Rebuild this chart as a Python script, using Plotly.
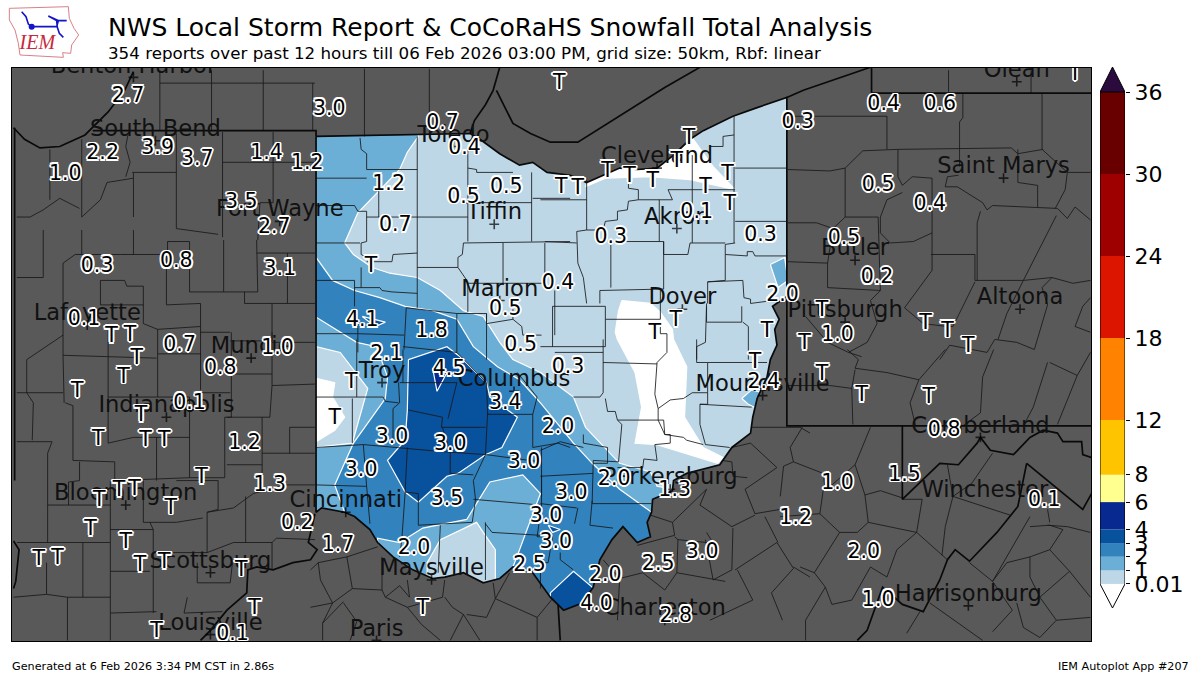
import plotly.graph_objects as go

# report values, lon / lat
snow_lon = [-86.51,-84.68,-83.65,-83.45,-80.42,-79.64,-79.13,-86.74,-86.24,-85.88,-85.25,-84.88,-87.08,-84.14,-83.46,-83.07,-79.69,-79.22,-85.48,-85.18,-84.08,-81.34,-82.12,-80.76,-80.0,-79.70,-86.79,-86.07,-85.13,-82.60,-80.56,-83.08,-86.91,-84.38,-83.75,-80.06,-82.94,-86.04,-85.15,-84.16,-85.67,-82.51,-83.59,-80.73,-83.08,-85.95,-79.09,-82.60,-84.11,-83.58,-85.45,-82.91,-84.39,-82.09,-79.45,-80.06,-82.48,-81.54,-85.22,-83.61,-78.18,-80.44,-84.97,-82.71,-82.62,-84.60,-83.91,-81.29,-79.82,-81.69,-82.86,-82.17,-79.69,-82.25,-81.53,-85.56]
snow_lat = [41.98,41.89,41.79,41.62,41.80,41.92,41.92,41.58,41.62,41.54,41.58,41.51,41.44,41.37,41.28,41.35,41.36,41.23,41.24,41.07,41.08,41.17,41.0,41.01,40.99,40.72,40.80,40.83,40.78,40.68,40.60,40.50,40.43,40.42,40.35,40.32,40.25,40.25,40.23,40.19,40.09,40.10,40.08,39.99,39.85,39.85,39.66,39.68,39.61,39.56,39.57,39.44,39.38,39.32,39.35,39.29,39.22,39.24,39.28,39.18,39.17,39.05,39.01,39.06,38.88,38.86,38.84,38.81,38.81,38.73,38.72,38.65,38.48,38.45,38.37,38.24]
snow_val = ["2.7","3.0","0.7","0.4","0.3","0.4","0.6","2.2","3.9","3.7","1.4","1.2","1.0","1.2","0.5","0.5","0.5","0.4","3.5","2.7","0.7","0.1","0.3","0.3","0.5","0.2","0.3","0.8","3.1","0.4","2.0","0.5","0.1","4.1","1.8","1.0","0.5","0.7","1.0","2.1","0.8","0.3","4.5","2.4","3.4","0.1","0.8","2.0","3.0","3.0","1.2","3.0","3.0","2.0","1.5","1.0","3.0","1.3","1.3","3.5","0.1","1.2","0.2","3.0","3.0","1.7","2.0","3.0","2.0","2.5","2.5","2.0","1.0","4.0","2.8","0.1"]

trace_lon = [-82.59,-77.90,-81.41,-82.15,-81.95,-81.74,-81.52,-81.06,-81.26,-81.04,-82.57,-82.42,-84.30,-86.66,-86.49,-86.43,-86.55,-86.97,-86.39,-86.78,-86.35,-86.18,-85.84,-86.77,-86.59,-86.45,-86.12,-86.85,-86.53,-87.32,-87.15,-86.40,-86.18,-85.48,-85.36,-86.25,-83.83,-84.48,-84.63,-81.72,-81.53,-80.70,-80.81,-80.36,-80.20,-80.20,-79.84,-79.23,-79.26,-79.06,-78.87]
trace_lat = [42.07,42.13,41.69,41.46,41.42,41.39,41.53,41.44,41.35,41.23,41.35,41.34,40.80,40.31,40.32,40.16,40.03,39.93,39.76,39.60,39.59,39.59,39.33,39.17,39.24,39.25,39.12,38.97,38.88,38.76,38.77,38.72,38.74,38.69,38.42,38.26,38.42,39.99,39.74,40.33,40.42,40.35,40.13,40.26,40.49,40.05,39.90,39.89,40.40,40.35,40.24]

city_name = ["Benton Harbor","South Bend","Toledo","Cleveland","Tiffin","Fort Wayne","Akron","Marion","Dover","Butler","Saint Marys","Olean","Altoona","Pittsburgh","Lafayette","Muncie","Troy","Columbus","Moundsville","Indianapolis","Cumberland","Winchester","Bloomington","Cincinnati","Parkersburg","Scottsburg","Maysville","Harrisonburg","Charleston","Louisville","Paris"]
city_lon = [-86.46,-86.26,-83.55,-81.70,-83.18,-85.13,-81.52,-83.13,-81.47,-79.90,-78.55,-78.43,-78.40,-79.99,-86.88,-85.39,-84.20,-83.00,-80.74,-86.16,-78.76,-78.72,-86.53,-84.53,-81.58,-85.76,-83.75,-78.87,-81.63,-85.76,-84.25]
city_lat = [42.10,41.66,41.62,41.47,41.08,41.10,41.05,40.55,40.49,40.83,41.40,42.07,40.49,40.40,40.38,40.15,39.98,39.92,39.89,39.74,39.60,39.15,39.13,39.08,39.24,38.66,38.61,38.43,38.33,38.23,38.19]

# colour bar
bar_bounds = [0.01,1,2,3,4,6,8,12,18,24,30,36]
bar_colors = ["#bdd7e7","#6baed6","#3182bd","#08519c","#08298f","#ffff8f","#ffc400","#ff8300","#db1500","#9e0000","#690000"]
bar_ticks = [0.01,1,2,3,4,6,8,12,18,24,30,36]
bar_ticktext = ["0.01","1","2","3","4","6","8","12","18","24","30","36"]

ohio = [(-84.80,41.69),(-83.87,41.70),(-83.40,41.71),(-83.31,41.67),(-83.13,41.57),(-82.95,41.49),(-82.83,41.51),(-82.70,41.44),(-82.49,41.42),(-82.34,41.37),(-82.19,41.42),(-82.04,41.47),(-81.88,41.46),(-81.70,41.47),(-81.55,41.56),(-81.40,41.67),(-81.28,41.73),(-81.01,41.83),(-80.79,41.89),(-80.52,41.96),(-80.52,40.58),(-80.65,40.51),(-80.59,40.42),(-80.63,40.35),(-80.61,40.24),(-80.67,40.14),(-80.70,40.02),(-80.79,39.87),(-80.83,39.74),(-80.85,39.63),(-81.02,39.53),(-81.13,39.41),(-81.43,39.35),(-81.55,39.30),(-81.56,39.23),(-81.74,39.17),(-81.75,39.08),(-81.79,39.01),(-81.76,38.91),(-81.88,38.87),(-82.01,38.98),(-82.11,38.89),(-82.22,38.75),(-82.28,38.56),(-82.38,38.45),(-82.55,38.40),(-82.67,38.49),(-82.85,38.68),(-83.01,38.70),(-83.13,38.62),(-83.28,38.59),(-83.46,38.66),(-83.63,38.63),(-83.74,38.62),(-83.92,38.68),(-84.10,38.77),(-84.24,38.87),(-84.31,38.96),(-84.45,39.05),(-84.54,39.08),(-84.75,39.11),(-84.80,39.08),(-84.80,41.69)]

# analysis bands, painted lightest first, the mask trims them to the state
white_zones = [
    [(-82.35,41.34),(-82.17,41.40),(-81.76,41.41),(-81.40,41.39),(-80.99,41.32),(-81.19,41.48),(-81.40,41.70),(-82.22,41.67)],
    [(-82.02,40.55),(-81.76,40.53),(-81.67,40.47),(-81.56,40.35),(-81.55,40.28),(-81.43,40.09),(-81.45,39.74),(-81.28,39.53),(-81.10,39.46),(-81.15,39.42),(-81.70,39.55),(-81.90,39.56),(-81.84,39.81),(-81.90,40.05),(-82.06,40.28),(-82.08,40.33),(-82.05,40.48)],
]
band1 = [
    [(-83.87,41.69),(-83.97,41.58),(-84.04,41.46),(-84.29,41.26),(-84.42,41.16),(-84.54,40.95),(-84.46,40.87),(-84.29,40.78),(-84.13,40.74),(-83.88,40.71),(-83.67,40.62),(-83.46,40.48),(-83.28,40.44),(-83.13,40.26),(-83.01,40.14),(-82.76,40.05),(-82.46,39.88),(-82.35,39.67),(-82.15,39.51),(-82.04,39.42),(-81.76,39.36),(-81.70,39.26),(-81.49,39.23),(-81.31,38.19),(-84.95,38.19),(-84.95,41.77),(-83.87,41.77)],
    [(-80.67,40.80),(-80.54,40.85),(-80.51,40.69),(-80.60,40.64)],
    [(-80.93,39.87),(-80.84,39.93),(-80.74,39.91),(-80.79,39.80),(-80.87,39.83)],
]
light_islands = [
    [(-84.95,40.23),(-84.80,40.23),(-84.58,40.19),(-84.33,39.94),(-84.47,39.56),(-84.80,39.53),(-84.95,39.53)],
    [(-83.79,38.54),(-83.79,38.73),(-83.67,38.89),(-83.34,39.01),(-83.28,38.94),(-83.17,38.82),(-83.17,38.54)],
]
white_west = [(-84.80,40.01),(-84.63,39.98),(-84.65,39.88),(-84.54,39.74),(-84.63,39.65),(-84.80,39.57)]
band2 = [(-84.95,40.85),(-84.80,40.85),(-84.65,40.69),(-84.45,40.62),(-84.22,40.57),(-83.99,40.51),(-83.74,40.48),(-83.52,40.42),(-83.37,40.23),(-83.15,40.09),(-82.95,40.0),(-82.76,39.84),(-82.46,39.56),(-82.29,39.42),(-82.04,39.24),(-81.75,39.08),(-81.31,39.03),(-81.40,38.26),(-83.04,38.26),(-83.01,38.70),(-82.95,38.82),(-82.81,39.11),(-82.76,39.21),(-82.92,39.34),(-83.22,39.29),(-83.35,39.13),(-83.43,39.03),(-83.83,38.97),(-83.95,38.91),(-84.04,38.87),(-84.24,38.90),(-84.24,38.75),(-84.58,38.89),(-84.54,39.08),(-84.63,39.27),(-84.46,39.56),(-84.17,39.87),(-84.15,40.02),(-84.25,40.23),(-84.43,40.26),(-84.79,40.43),(-84.95,40.43)]
band3 = [
    [(-83.96,40.14),(-83.61,40.23),(-83.49,40.16),(-83.25,39.98),(-83.22,39.88),(-82.97,39.74),(-83.11,39.53),(-83.26,39.48),(-83.51,39.35),(-83.61,39.33),(-83.87,39.15),(-83.99,39.22),(-84.15,39.44),(-83.99,39.58),(-83.97,39.79)],
    [(-84.38,40.44),(-84.17,40.40),(-84.26,40.37)],
    [(-82.69,38.99),(-82.58,38.96),(-82.65,38.94)],
    [(-82.67,38.52),(-82.46,38.67),(-82.29,38.56),(-82.22,38.47),(-82.40,38.26),(-82.67,38.26)],
]
band4 = [(-83.74,40.08),(-83.61,40.05),(-83.70,39.92)]

state_lines = [
    [(-86.83,41.73),(-84.80,41.73),(-84.80,41.69)],
    [(-87.54,41.75),(-87.54,39.30)],
    [(-87.55,38.88),(-87.50,38.82),(-87.53,38.60),(-87.55,38.55)],
    [(-86.46,42.14),(-86.54,42.01),(-86.69,41.86),(-86.90,41.70),(-87.13,41.62),(-87.31,41.61),(-87.45,41.67),(-87.55,41.75)],
    [(-83.40,41.71),(-83.36,41.80),(-83.26,41.91),(-83.19,42.01),(-83.13,42.17)],
    [(-83.16,42.01),(-83.01,41.78),(-82.85,41.71),(-82.67,41.65),(-82.42,41.65),(-81.63,42.03),(-81.31,42.17)],
    [(-80.52,41.96),(-80.37,42.01),(-79.76,42.17)],
    [(-84.81,39.07),(-84.87,38.87),(-84.79,38.82),(-84.85,38.75),(-85.01,38.73),(-85.19,38.68),(-85.34,38.70),(-85.42,38.68),(-85.43,38.52),(-85.61,38.40),(-85.76,38.26),(-85.85,38.19)],
    [(-82.60,38.44),(-82.58,38.19)],
    [(-80.52,40.58),(-80.52,39.68),(-77.75,39.68)],
    [(-79.75,42.17),(-79.75,41.99),(-77.75,41.99)],
    [(-79.47,39.68),(-79.47,39.17),(-79.13,39.42),(-78.96,39.41),(-78.79,39.56),(-78.76,39.60),(-78.67,39.51),(-78.46,39.48),(-78.31,39.60),(-78.19,39.65),(-78.06,39.63),(-78.01,39.57),(-77.84,39.57),(-77.83,39.48),(-77.75,39.46)],
    [(-78.34,39.42),(-77.83,39.10),(-77.75,39.21)],
    [(-78.34,39.42),(-78.42,39.12),(-78.61,38.94),(-78.86,38.74),(-78.99,38.82),(-79.06,38.75),(-79.13,38.61),(-79.28,38.39),(-79.47,38.44),(-79.65,38.56),(-79.79,38.26),(-79.88,38.19)],
]

ohio_counties = [
    [(-84.40,41.68),(-84.39,41.60),(-84.34,41.57),(-84.34,41.46),(-83.88,41.46)],
    [(-83.88,41.69),(-83.88,40.50)],
    [(-84.80,41.40),(-84.34,41.40)],
    [(-84.80,41.21),(-84.45,41.21),(-84.42,41.17),(-84.34,41.17),(-84.34,40.96),(-84.39,40.95),(-84.39,40.87),(-84.34,40.85)],
    [(-84.34,41.13),(-83.42,41.13)],
    [(-84.23,41.40),(-84.23,41.13)],
    [(-84.34,40.82),(-84.11,40.82),(-84.10,40.87),(-83.88,40.88)],
    [(-84.80,40.95),(-84.40,40.95)],
    [(-84.80,40.69),(-84.45,40.69),(-84.45,40.51)],
    [(-84.39,40.78),(-84.39,40.64)],
    [(-84.45,40.64),(-84.22,40.64),(-84.20,40.62),(-84.11,40.61),(-83.88,40.60)],
    [(-83.88,40.78),(-83.51,40.78)],
    [(-83.42,41.60),(-83.42,40.96)],
    [(-83.42,41.47),(-83.34,41.46),(-83.34,41.44),(-83.01,41.44)],
    [(-82.84,41.44),(-82.84,40.96)],
    [(-83.42,41.23),(-82.84,41.23)],
    [(-83.46,40.95),(-82.49,40.96)],
    [(-83.46,40.95),(-83.47,40.87),(-83.51,40.85),(-83.51,40.78),(-83.42,40.68)],
    [(-83.42,40.68),(-83.42,40.47)],
    [(-83.10,40.95),(-83.10,40.67)],
    [(-83.42,40.67),(-82.72,40.67)],
    [(-82.72,40.95),(-82.72,40.67)],
    [(-82.63,40.62),(-82.63,40.31)],
    [(-83.01,40.49),(-83.01,40.42),(-82.93,40.37),(-82.92,40.31),(-82.75,40.31)],
    [(-83.52,40.46),(-83.52,40.19)],
    [(-83.98,40.50),(-83.52,40.46)],
    [(-83.98,40.50),(-84.00,40.21)],
    [(-83.52,40.46),(-83.25,40.46),(-83.25,40.39),(-83.01,40.42)],
    [(-84.42,40.39),(-84.42,40.19)],
    [(-84.42,40.32),(-84.00,40.31)],
    [(-84.80,40.32),(-84.42,40.32)],
    [(-83.25,40.46),(-83.25,40.14)],
    [(-82.83,41.26),(-82.49,41.26)],
    [(-82.34,41.25),(-82.76,41.25)],
    [(-82.34,41.40),(-82.34,41.04),(-82.43,41.03),(-82.42,40.81),(-82.37,40.71),(-82.34,40.53)],
    [(-81.96,41.44),(-81.96,41.33),(-81.87,41.32),(-81.87,41.25),(-81.96,41.24),(-81.97,41.18),(-82.06,41.17),(-82.06,41.11),(-82.17,41.10),(-82.19,41.04),(-82.34,41.04)],
    [(-81.87,41.25),(-81.56,41.25),(-81.60,41.32),(-81.38,41.32)],
    [(-81.68,41.25),(-81.68,40.96)],
    [(-81.38,41.56),(-81.38,40.95)],
    [(-81.38,41.32),(-80.99,41.32)],
    [(-81.22,41.62),(-81.10,41.62),(-81.10,41.69),(-81.00,41.70)],
    [(-81.00,41.83),(-81.00,40.95)],
    [(-80.99,41.47),(-80.52,41.47)],
    [(-80.99,41.10),(-80.52,41.10)],
    [(-82.12,40.96),(-81.64,40.96)],
    [(-82.12,40.96),(-82.12,40.64)],
    [(-82.72,40.96),(-82.43,40.95)],
    [(-81.64,40.96),(-81.64,40.87),(-81.42,40.87),(-81.40,40.95),(-81.08,40.95)],
    [(-80.99,40.95),(-81.08,40.94),(-81.08,40.87),(-80.88,40.86),(-80.88,40.89),(-80.83,40.89),(-80.81,40.86),(-80.52,40.86)],
    [(-81.64,40.96),(-81.64,40.63),(-82.22,40.62),(-82.22,40.53)],
    [(-81.08,40.87),(-81.08,40.69),(-81.24,40.68),(-81.24,40.53)],
    [(-81.24,40.68),(-80.92,40.69),(-80.91,40.57),(-80.85,40.56),(-80.85,40.53),(-80.65,40.55)],
    [(-81.25,40.51),(-81.25,40.40),(-80.93,40.40),(-80.93,40.51)],
    [(-81.25,40.53),(-81.26,40.26),(-81.34,40.23),(-81.34,40.14)],
    [(-80.92,40.40),(-80.87,40.37),(-80.87,40.14)],
    [(-81.67,40.63),(-81.67,40.42),(-82.17,40.42),(-82.17,40.51),(-82.65,40.51),(-82.65,40.23)],
    [(-82.17,40.42),(-82.17,40.23),(-82.76,40.23)],
    [(-81.67,40.40),(-81.67,40.32),(-81.61,40.32),(-81.61,40.19),(-81.70,40.12),(-81.72,39.90),(-81.69,39.80),(-81.69,39.72)],
    [(-82.19,40.12),(-81.70,40.11)],
    [(-82.19,40.28),(-82.19,39.91),(-82.22,39.88),(-82.46,39.88)],
    [(-82.63,40.19),(-82.19,40.19)],
    [(-82.17,39.87),(-82.15,39.78),(-82.08,39.78),(-82.06,39.72),(-81.64,39.72),(-81.63,39.62),(-81.58,39.62),(-81.58,39.56),(-81.72,39.55),(-81.70,39.44),(-81.82,39.45),(-81.83,39.39),(-82.06,39.39)],
    [(-82.06,39.72),(-82.02,39.69),(-82.05,39.43),(-82.28,39.44),(-82.29,39.14),(-81.75,39.14)],
    [(-81.69,39.80),(-81.58,39.86),(-81.46,39.87),(-81.38,39.91),(-81.24,39.91),(-81.24,40.12),(-81.34,40.12),(-81.34,40.28)],
    [(-81.24,40.12),(-80.70,40.12)],
    [(-81.24,39.91),(-81.24,39.83),(-81.31,39.83),(-81.31,39.69),(-81.26,39.55),(-81.04,39.53)],
    [(-81.31,39.83),(-80.84,39.81)],
    [(-81.69,39.72),(-81.63,39.62),(-81.46,39.60),(-81.43,39.58),(-81.28,39.55)],
    [(-82.37,39.62),(-82.37,39.56),(-82.15,39.53),(-82.15,39.42),(-82.28,39.42)],
    [(-82.76,39.51),(-82.58,39.57),(-82.37,39.53)],
    [(-82.75,39.53),(-82.75,39.19)],
    [(-82.76,39.33),(-82.28,39.35)],
    [(-82.29,39.16),(-82.31,38.99),(-82.10,38.97)],
    [(-82.42,39.11),(-82.45,39.00)],
    [(-82.76,39.14),(-82.43,39.11)],
    [(-82.58,38.80),(-82.58,38.75),(-82.46,38.68)],
    [(-84.80,39.88),(-84.19,39.88),(-84.17,39.85),(-84.05,39.84)],
    [(-84.47,39.87),(-84.47,39.56)],
    [(-84.43,40.28),(-84.43,39.88)],
    [(-84.80,39.53),(-84.37,39.55),(-84.34,39.26)],
    [(-84.80,39.27),(-84.34,39.26),(-84.31,39.00)],
    [(-84.37,39.55),(-83.64,39.50),(-83.25,39.48),(-82.76,39.43)],
    [(-84.05,39.98),(-84.04,39.84),(-84.10,39.80),(-84.10,39.55)],
    [(-84.04,39.98),(-83.52,39.98),(-83.60,39.73)],
    [(-83.96,39.79),(-83.65,39.74),(-83.66,39.67),(-83.26,39.67)],
    [(-84.01,40.21),(-84.01,39.98)],
    [(-84.01,40.23),(-83.52,40.19),(-83.25,39.98)],
    [(-83.24,39.77),(-83.26,39.48),(-83.37,39.30),(-83.35,39.17),(-83.38,39.01)],
    [(-83.25,39.98),(-83.24,39.76),(-82.83,39.76),(-82.79,39.88),(-82.97,40.05)],
    [(-83.65,39.67),(-83.58,39.49),(-83.58,39.35),(-83.37,39.34)],
    [(-83.97,39.53),(-83.99,39.22),(-84.02,38.89),(-84.04,38.77)],
    [(-83.99,39.22),(-83.87,39.21),(-83.87,38.99),(-83.38,39.01)],
    [(-83.67,38.99),(-83.69,38.66)],
    [(-83.37,39.17),(-82.76,39.13)],
    [(-83.26,39.00),(-83.20,38.94),(-82.76,38.92)],
    [(-83.26,39.01),(-83.26,38.61)],
    [(-82.75,39.34),(-82.75,39.13),(-82.79,38.91),(-82.65,38.91),(-82.69,38.73),(-82.76,38.73),(-82.76,38.55)],
    [(-82.83,39.76),(-82.83,39.53),(-82.60,39.56),(-82.49,39.53)],
]

other_counties = [
    # michigan, indiana
    [(-87.22,41.60),(-87.22,41.25)],
    [(-86.93,41.67),(-86.93,41.13)],
    [(-86.51,41.70),(-86.53,41.62),(-86.49,41.51),(-86.53,41.41)],
    [(-86.07,41.71),(-86.07,41.13),(-86.07,41.05),(-85.69,41.01)],
    [(-85.65,41.72),(-85.65,40.99)],
    [(-85.19,41.72),(-85.19,41.23)],
    [(-85.65,41.51),(-84.81,41.51)],
    [(-86.47,41.44),(-86.07,41.44)],
    [(-86.46,41.44),(-86.46,41.13)],
    [(-86.93,41.13),(-86.76,41.25),(-86.70,41.37),(-86.46,41.40)],
    [(-87.52,41.13),(-87.40,41.13),(-87.28,41.18),(-87.13,41.26),(-86.95,41.19)],
    [(-85.19,41.23),(-85.31,41.23),(-85.33,40.97)],
    [(-86.22,42.15),(-86.22,41.73)],
    [(-86.22,42.06),(-84.81,42.06)],
    [(-85.75,42.15),(-85.75,41.73)],
    [(-85.28,42.15),(-85.28,41.73)],
    [(-84.83,42.06),(-84.83,41.73)],
    [(-84.36,42.16),(-84.36,41.69)],
    [(-83.77,42.16),(-83.77,41.70)],
    [(-87.28,41.04),(-87.28,40.71),(-87.52,40.71)],
    [(-87.10,40.81),(-86.99,40.87),(-86.58,40.87),(-86.15,40.87),(-86.15,40.96),(-85.95,40.96)],
    [(-86.46,41.04),(-86.46,40.87)],
    [(-86.93,41.04),(-86.93,40.87)],
    [(-87.10,40.81),(-87.10,40.17),(-87.09,39.84)],
    [(-86.76,40.69),(-86.54,40.69),(-86.52,40.65),(-86.37,40.65),(-86.37,40.39),(-86.24,40.35),(-85.85,40.37)],
    [(-86.76,40.69),(-86.76,40.52),(-86.37,40.52)],
    [(-86.16,40.87),(-86.16,40.52),(-85.85,40.53),(-85.85,39.93)],
    [(-85.95,40.96),(-85.95,40.61),(-85.33,40.61),(-85.34,40.97)],
    [(-85.64,40.97),(-85.64,40.61)],
    [(-85.45,40.61),(-85.45,40.53),(-85.20,40.53),(-85.20,40.27),(-85.58,40.27)],
    [(-85.06,40.53),(-85.06,40.88),(-84.81,40.88)],
    [(-85.20,40.53),(-84.81,40.53)],
    [(-85.34,40.88),(-85.06,40.88)],
    [(-85.20,40.26),(-84.81,40.26)],
    [(-85.57,40.33),(-85.57,39.74),(-85.63,39.74),(-85.63,39.32),(-85.95,39.32)],
    [(-85.20,40.33),(-85.20,39.96),(-84.81,39.97)],
    [(-85.57,40.04),(-85.20,40.04)],
    [(-85.20,39.96),(-85.22,39.74),(-85.61,39.74)],
    [(-86.24,40.35),(-86.24,39.88),(-85.95,39.88),(-85.95,39.32)],
    [(-86.69,40.39),(-86.69,39.88),(-86.24,39.88)],
    [(-87.10,40.17),(-86.25,40.15)],
    [(-86.24,40.18),(-85.85,40.18)],
    [(-85.85,40.33),(-85.58,40.33)],
    [(-85.85,39.91),(-85.58,39.91)],
    [(-87.08,39.84),(-87.01,39.82),(-87.01,39.44),(-86.63,39.43),(-86.63,39.30)],
    [(-86.69,39.88),(-86.69,39.56),(-86.46,39.60),(-85.95,39.60)],
    [(-87.52,39.91),(-87.10,39.91)],
    [(-87.52,39.57),(-87.20,39.57),(-87.24,39.49),(-87.24,39.13),(-86.67,39.13)],
    [(-86.95,39.43),(-86.95,39.30),(-87.05,39.29),(-87.05,39.13)],
    [(-86.63,39.30),(-85.95,39.32)],
    [(-86.25,39.60),(-86.25,39.30)],
    [(-85.29,39.74),(-85.29,39.41),(-85.61,39.41)],
    [(-85.29,39.49),(-84.81,39.49)],
    [(-85.04,39.67),(-84.81,39.67)],
    [(-85.04,39.67),(-85.04,39.49)],
    [(-86.07,39.30),(-85.69,39.30),(-85.69,39.10),(-85.79,39.08),(-85.79,38.80)],
    [(-86.67,39.30),(-86.67,38.19)],
    [(-86.37,39.30),(-86.37,39.01),(-86.07,39.01),(-85.83,39.04)],
    [(-85.08,39.27),(-84.81,39.27)],
    [(-85.44,39.19),(-85.44,38.87)],
    [(-85.55,39.11),(-85.37,39.21),(-85.08,39.27)],
    [(-85.29,39.41),(-85.29,39.25)],
    [(-85.79,39.08),(-85.55,39.11)],
    [(-87.52,38.87),(-86.67,38.87)],
    [(-87.24,39.13),(-87.24,38.87)],
    [(-86.92,38.87),(-86.92,38.49)],
    [(-86.67,38.96),(-86.28,38.96),(-86.28,38.38)],
    [(-86.31,39.01),(-86.28,38.96)],
    [(-86.67,38.67),(-86.31,38.67)],
    [(-86.28,38.80),(-85.79,38.80),(-85.55,38.87),(-85.20,38.87),(-85.16,38.90),(-84.81,38.89)],
    [(-85.20,38.87),(-85.20,38.68)],
    [(-85.88,38.73),(-85.88,38.59),(-85.58,38.59),(-85.56,38.73)],
    [(-85.97,38.49),(-86.00,38.38),(-85.65,38.39)],
    [(-87.55,38.49),(-87.25,38.51),(-87.06,38.49),(-86.67,38.49)],
    [(-87.25,38.73),(-87.25,38.51)],
    [(-87.06,38.49),(-87.06,38.19)],
    [(-86.67,38.38),(-86.25,38.39)],
    [(-87.10,40.31),(-87.43,40.14),(-87.43,39.91),(-87.37,39.84),(-87.38,39.58)],
    # kentucky
    [(-84.85,38.68),(-84.78,38.73),(-84.52,38.77),(-84.24,38.84)],
    [(-84.52,38.77),(-84.47,38.55),(-84.20,38.54)],
    [(-84.78,38.73),(-84.76,38.61),(-84.65,38.45),(-84.74,38.31)],
    [(-84.47,38.55),(-84.65,38.45),(-84.85,38.42)],
    [(-84.20,38.77),(-84.20,38.54),(-84.17,38.49),(-83.97,38.42),(-83.84,38.30),(-83.67,38.19)],
    [(-83.97,38.42),(-83.65,38.49),(-83.63,38.61)],
    [(-83.97,38.61),(-83.95,38.49),(-84.04,38.57),(-84.17,38.49)],
    [(-83.63,38.49),(-83.56,38.42),(-83.46,38.37),(-83.31,38.19)],
    [(-83.46,38.37),(-83.58,38.19)],
    [(-83.19,38.59),(-83.17,38.48),(-82.79,38.35),(-82.79,38.19)],
    [(-83.17,38.48),(-83.25,38.35),(-83.43,38.37)],
    [(-82.79,38.35),(-82.65,38.48)],
    [(-83.04,38.66),(-83.17,38.48)],
    [(-84.55,38.46),(-84.74,38.31),(-84.74,38.19)],
    [(-84.55,38.45),(-84.43,38.32),(-84.49,38.19)],
    # west virginia
    [(-80.84,39.67),(-80.40,39.67),(-80.31,39.63)],
    [(-81.02,39.53),(-80.85,39.56),(-80.61,39.39),(-80.90,39.24),(-80.81,39.07),(-80.58,39.10)],
    [(-81.11,39.44),(-81.02,39.43),(-81.01,39.33),(-80.88,39.32)],
    [(-81.31,39.13),(-81.02,38.98),(-80.81,39.06)],
    [(-81.31,39.13),(-81.25,39.24),(-81.56,39.01),(-81.54,38.92),(-81.88,38.85)],
    [(-81.56,39.01),(-81.76,39.06)],
    [(-81.54,38.91),(-81.51,38.89),(-81.25,38.87),(-81.17,38.84),(-81.25,38.94)],
    [(-81.01,38.97),(-81.02,38.68),(-81.19,38.61),(-81.26,38.89)],
    [(-80.99,38.68),(-80.61,38.87),(-80.46,38.69)],
    [(-80.72,39.05),(-80.60,38.87)],
    [(-81.51,38.89),(-81.52,38.66),(-81.63,38.54),(-81.83,38.66),(-82.04,38.62),(-82.19,38.75)],
    [(-81.52,38.66),(-81.08,38.60)],
    [(-80.97,38.68),(-80.83,38.47),(-81.22,38.33)],
    [(-82.04,38.62),(-82.06,38.33)],
    [(-80.46,38.70),(-80.31,38.63)],
    [(-80.46,38.69),(-80.66,38.52),(-80.56,38.33)],
    [(-80.38,39.67),(-80.49,39.53),(-80.46,39.43),(-80.19,39.35),(-80.17,39.23),(-79.90,39.41),(-79.76,39.67)],
    [(-80.46,39.43),(-80.55,39.40),(-80.58,39.19)],
    [(-80.19,39.23),(-80.22,39.07),(-80.58,39.05)],
    [(-80.22,39.07),(-80.04,38.94),(-80.27,38.66),(-80.40,38.70)],
    [(-79.90,39.41),(-79.81,39.20),(-79.78,39.01),(-79.34,38.94),(-79.29,39.17),(-79.47,39.17)],
    [(-79.81,39.20),(-79.67,39.23),(-79.47,39.18)],
    [(-80.04,38.94),(-79.88,38.94),(-79.78,39.01)],
    [(-80.27,38.66),(-80.17,38.56),(-80.35,38.33)],
    [(-80.17,38.56),(-80.11,38.44),(-79.93,38.47),(-79.76,38.70),(-79.61,38.63),(-79.52,38.82),(-79.34,38.94)],
    [(-80.35,38.33),(-80.35,38.19)],
    # pennsylvania, new york
    [(-80.51,41.83),(-79.61,41.83),(-79.61,41.60)],
    [(-78.92,41.99),(-78.92,41.82),(-78.95,41.79),(-78.95,41.48)],
    [(-78.20,41.99),(-78.20,41.60),(-77.97,41.44),(-77.76,41.44)],
    [(-80.51,41.46),(-80.13,41.45),(-79.99,41.47),(-79.83,41.59),(-79.51,41.60),(-79.51,41.41),(-79.47,41.35),(-79.38,41.41),(-79.20,41.40),(-79.20,41.02)],
    [(-79.51,41.60),(-78.48,41.61),(-78.42,41.57),(-78.19,41.60)],
    [(-79.99,41.47),(-79.99,41.13),(-79.69,41.13),(-79.67,40.62),(-80.15,40.64),(-80.15,40.81),(-80.51,40.82)],
    [(-80.51,41.09),(-80.25,41.09),(-80.10,41.05),(-80.15,40.81)],
    [(-80.10,41.05),(-79.99,41.13)],
    [(-79.67,41.13),(-79.67,41.02),(-79.58,40.95),(-79.37,40.96),(-79.20,41.02)],
    [(-79.67,41.13),(-79.61,41.25),(-79.47,41.30)],
    [(-79.20,41.02),(-79.20,40.76),(-79.45,40.50)],
    [(-79.21,40.87),(-78.81,40.87),(-78.81,40.69),(-78.37,40.69),(-78.07,41.14)],
    [(-79.08,41.34),(-78.97,41.34),(-78.74,41.23),(-78.70,41.18),(-78.65,41.21),(-78.06,41.19),(-77.97,41.12),(-77.90,41.20),(-77.76,41.11)],
    [(-78.76,41.17),(-78.79,41.09),(-78.79,40.69)],
    [(-79.08,41.34),(-79.06,41.41),(-78.96,41.42)],
    [(-78.42,41.60),(-78.42,41.37),(-78.24,41.35),(-78.24,41.20)],
    [(-77.97,41.44),(-77.99,41.32),(-78.08,41.19)],
    [(-79.45,40.50),(-79.28,40.39),(-79.06,40.37),(-79.01,40.37),(-78.81,40.68)],
    [(-78.37,40.69),(-78.11,40.71),(-78.20,40.64),(-78.15,40.52),(-78.27,40.21),(-78.43,40.26),(-78.63,40.28),(-78.70,40.19),(-79.04,40.24),(-79.13,40.14)],
    [(-78.37,40.69),(-78.52,40.46),(-78.60,40.28)],
    [(-78.11,40.71),(-77.92,40.67),(-77.76,40.69)],
    [(-77.76,40.57),(-77.83,40.51),(-77.90,40.37),(-77.76,40.33)],
    [(-79.67,40.62),(-79.76,40.55),(-79.70,40.39),(-79.79,40.26),(-79.96,40.19),(-79.84,40.16)],
    [(-80.35,40.44),(-80.15,40.26),(-79.96,40.19)],
    [(-79.97,40.21),(-79.87,40.14),(-79.90,40.08),(-79.61,40.05),(-79.32,40.00),(-79.40,39.84),(-79.35,39.68)],
    [(-80.13,39.96),(-79.93,39.94),(-79.92,39.69)],
    [(-79.90,40.07),(-79.93,39.94)],
    [(-80.51,39.96),(-80.13,39.96)],
    [(-79.08,40.21),(-79.32,40.00)],
    [(-78.64,40.21),(-78.74,40.02),(-78.76,39.77),(-78.92,39.68)],
    [(-78.15,40.12),(-78.28,39.81),(-78.37,39.68)],
    [(-78.13,40.12),(-77.88,40.03),(-78.06,39.69)],
    [(-77.88,40.03),(-77.76,40.19)],
    [(-79.05,42.15),(-79.05,41.99)],
    [(-78.30,42.15),(-78.30,41.99)],
    # virginia
    [(-79.34,38.94),(-79.06,38.75)],
    [(-78.86,38.73),(-78.65,38.60),(-78.47,38.40),(-78.65,38.25)],
    [(-79.22,38.45),(-78.74,38.19)],
    [(-79.31,38.39),(-79.43,38.24)],
    [(-79.01,39.19),(-79.08,38.98),(-79.11,38.78)],
    [(-79.01,39.19),(-78.56,39.08),(-78.49,39.06)],
    [(-78.65,39.49),(-78.84,39.28),(-79.01,39.19),(-79.06,39.41)],
    [(-78.65,38.60),(-78.31,39.05)],
    [(-78.15,38.99),(-77.97,38.98),(-77.76,38.94)],
    [(-78.31,38.98),(-78.13,38.99),(-78.01,38.96),(-78.13,38.82),(-77.95,38.67),(-78.22,38.49),(-78.07,38.33),(-77.76,38.35)],
    [(-78.31,38.77),(-78.31,38.63),(-78.22,38.49)],
    [(-78.65,38.60),(-78.52,38.73),(-78.31,38.77),(-78.13,38.82)],
    [(-78.43,38.45),(-78.37,38.28),(-78.22,38.21),(-78.07,38.33)],
    [(-77.95,38.67),(-77.76,38.49)],
    [(-78.15,39.10),(-78.13,39.01)],
]

# logo, on its own little axes
logo_outline = [(28,25),(205,20),(208,55),(222,85),(236,105),(215,135),(212,160),(188,158),(190,172),(60,165),(55,130),(45,90),(28,60),(28,25)]
logo_bird = [(95,80),(170,80),(175,62),(200,62),(176,62),(145,48),(170,62),(172,82),(178,100),(190,112)]
logo_wing = [(65,35),(78,50),(85,72),(95,80)]

LAND = "#595959"
HALO = ",".join(f"{dx}px {dy}px 0 #fff" for dx, dy in [(1.8,0),(-1.8,0),(0,1.8),(0,-1.8),(1.3,1.3),(-1.3,1.3),(1.3,-1.3),(-1.3,-1.3)])
X_RANGE = [-87.564, -77.755]
Y_RANGE = [38.186, 42.165]
VALUE_NUDGE = -0.014  # text sits a touch high in plotly
CITY_TEXT_LIFT = 0.073


def unzip(lines):
    xs, ys = [], []
    for line in lines:
        xs += [p[0] for p in line] + [None]
        ys += [p[1] for p in line] + [None]
    return xs, ys


def add_band(fig, polys, color, line="white"):
    for poly in polys:
        closed = poly + poly[:1]
        fig.add_trace(go.Scatter(x=[p[0] for p in closed], y=[p[1] for p in closed], mode="lines",
                                 fill="toself", fillcolor=color, line=dict(color=line, width=1.2),
                                 hoverinfo="skip", showlegend=False))


fig = go.Figure()

# everything inside the state starts as the lightest class
add_band(fig, [[(X_RANGE[0], Y_RANGE[0]), (X_RANGE[1], Y_RANGE[0]), (X_RANGE[1], Y_RANGE[1]), (X_RANGE[0], Y_RANGE[1])]], bar_colors[0], line=bar_colors[0])
add_band(fig, white_zones, "white")
add_band(fig, band1, bar_colors[1])
add_band(fig, light_islands, bar_colors[0])
add_band(fig, [white_west], "white")
add_band(fig, [band2], bar_colors[2])
add_band(fig, band3, bar_colors[3])
add_band(fig, [band4], bar_colors[4])

# grey everywhere but Ohio
corners = [(X_RANGE[0], Y_RANGE[0]), (X_RANGE[0], Y_RANGE[1]), (X_RANGE[1], Y_RANGE[1]), (X_RANGE[1], Y_RANGE[0]), (X_RANGE[0], Y_RANGE[0])]
hole = ohio[::-1]
mask = corners + hole + corners[:1]
fig.add_trace(go.Scatter(x=[p[0] for p in mask], y=[p[1] for p in mask], mode="lines", fill="toself",
                         fillcolor=LAND, line=dict(width=0), hoverinfo="skip", showlegend=False))

xs, ys = unzip(ohio_counties + other_counties)
fig.add_trace(go.Scatter(x=xs, y=ys, mode="lines", line=dict(color="rgba(25,25,25,0.85)", width=1),
                         hoverinfo="skip", showlegend=False))
xs, ys = unzip(state_lines + [ohio])
fig.add_trace(go.Scatter(x=xs, y=ys, mode="lines", line=dict(color="#0a0a0a", width=1.7),
                         hoverinfo="skip", showlegend=False))

# Winchester's cross sits under a report label in the original
city_sizes = [0 if name == "Winchester" else 7 for name in city_name]
fig.add_trace(go.Scatter(x=city_lon, y=city_lat, mode="markers",
                         marker=dict(symbol="cross-thin", size=city_sizes, line=dict(color="black", width=1.6)),
                         hoverinfo="skip", showlegend=False))
fig.add_trace(go.Scatter(x=city_lon, y=[v + CITY_TEXT_LIFT for v in city_lat], mode="text", text=city_name,
                         textposition="middle center", textfont=dict(family="DejaVu Sans", size=22.6, color="#111"),
                         hoverinfo="skip", showlegend=False))
fig.add_trace(go.Scatter(x=snow_lon + trace_lon, y=[v + VALUE_NUDGE for v in snow_lat + trace_lat], mode="text",
                         text=snow_val + ["T"] * len(trace_lon), textposition="middle center",
                         textfont=dict(family="DejaVu Sans", size=20.5, color="black", shadow=HALO),
                         hoverinfo="skip", showlegend=False))

# colour bar
for lo, hi, color in zip(bar_bounds[:-1], bar_bounds[1:], bar_colors):
    fig.add_trace(go.Bar(x=[0], y=[hi - lo], base=lo, width=1, marker=dict(color=color, line=dict(width=0)),
                         xaxis="x2", yaxis="y2", hoverinfo="skip", showlegend=False))
fig.add_trace(go.Scatter(x=[-0.5, 0, 0.5, -0.5], y=[36, 37.83, 36, 36], mode="lines", fill="toself", fillcolor="#2b0a3d",
                         line=dict(color="black", width=1), xaxis="x2", yaxis="y2", hoverinfo="skip", showlegend=False))
fig.add_trace(go.Scatter(x=[-0.5, -0.5, 0, 0.5, 0.5], y=[36, 0.01, -1.75, 0.01, 36], mode="lines",
                         line=dict(color="black", width=1), xaxis="x2", yaxis="y2", hoverinfo="skip", showlegend=False))

# logo
xs, ys = unzip([logo_outline])
fig.add_trace(go.Scatter(x=xs, y=ys, mode="lines", line=dict(color="#d9808a", width=1), xaxis="x3", yaxis="y3",
                         hoverinfo="skip", showlegend=False))
xs, ys = unzip([logo_bird, logo_wing])
fig.add_trace(go.Scatter(x=xs, y=ys, mode="lines", line=dict(color="#1414c8", width=1.6), xaxis="x3", yaxis="y3",
                         hoverinfo="skip", showlegend=False))
fig.add_trace(go.Scatter(x=[95], y=[80], mode="markers", marker=dict(color="#1414c8", size=6), xaxis="x3", yaxis="y3",
                         hoverinfo="skip", showlegend=False))
fig.add_trace(go.Scatter(x=[112], y=[133], mode="text", text=["IEM"], xaxis="x3", yaxis="y3",
                         textfont=dict(family="Liberation Serif", size=20, color="#c8283c", style="italic"),
                         hoverinfo="skip", showlegend=False))

W, H = 1200, 675
fig.update_layout(
    width=W, height=H, margin=dict(l=0, r=0, t=0, b=0), paper_bgcolor="white", plot_bgcolor="white",
    barmode="overlay", showlegend=False,
    xaxis=dict(domain=[12 / W, 1091 / W], range=X_RANGE, showgrid=False, zeroline=False, showticklabels=False,
               ticks="", showline=True, mirror=True, linecolor="black", linewidth=1),
    yaxis=dict(domain=[1 - 641 / H, 1 - 68 / H], range=Y_RANGE, showgrid=False, zeroline=False, showticklabels=False,
               ticks="", showline=True, mirror=True, linecolor="black", linewidth=1),
    xaxis2=dict(domain=[1100 / W, 1125 / W], range=[-0.5, 0.5], visible=False, anchor="y2"),
    yaxis2=dict(domain=[1 - 608 / H, 1 - 67 / H], range=[-1.75, 37.83], side="right", anchor="x2", showgrid=False,
                zeroline=False, tickmode="array", tickvals=bar_ticks, ticktext=bar_ticktext, ticks="outside", ticklen=4,
                tickcolor="black", tickfont=dict(family="DejaVu Sans", size=22, color="black"), showline=False),
    xaxis3=dict(domain=[0, 80 / W], range=[0, 240], visible=False, anchor="y3"),
    yaxis3=dict(domain=[1 - 60 / H, 1], range=[180, 0], visible=False, anchor="x3"),
    annotations=[
        dict(text="NWS Local Storm Report & CoCoRaHS Snowfall Total Analysis", x=106 / W, y=1 - 27 / H, xref="paper", yref="paper",
             xanchor="left", yanchor="middle", showarrow=False, font=dict(family="DejaVu Sans", size=25, color="black")),
        dict(text="354 reports over past 12 hours till 06 Feb 2026 03:00 PM, grid size: 50km, Rbf: linear", x=106 / W, y=1 - 53 / H,
             xref="paper", yref="paper", xanchor="left", yanchor="middle", showarrow=False, font=dict(family="DejaVu Sans", size=16.7, color="black")),
        dict(text="Generated at 6 Feb 2026 3:34 PM CST in 2.86s", x=10 / W, y=1 - 666 / H, xref="paper", yref="paper",
             xanchor="left", yanchor="middle", showarrow=False, font=dict(family="DejaVu Sans", size=11.2, color="black")),
        dict(text="IEM Autoplot App #207", x=1191 / W, y=1 - 666 / H, xref="paper", yref="paper",
             xanchor="right", yanchor="middle", showarrow=False, font=dict(family="DejaVu Sans", size=11.2, color="black")),
    ],
)

fig.write_html("out.html", config=dict(displayModeBar=False), post_script="document.body.style.margin='0';")
